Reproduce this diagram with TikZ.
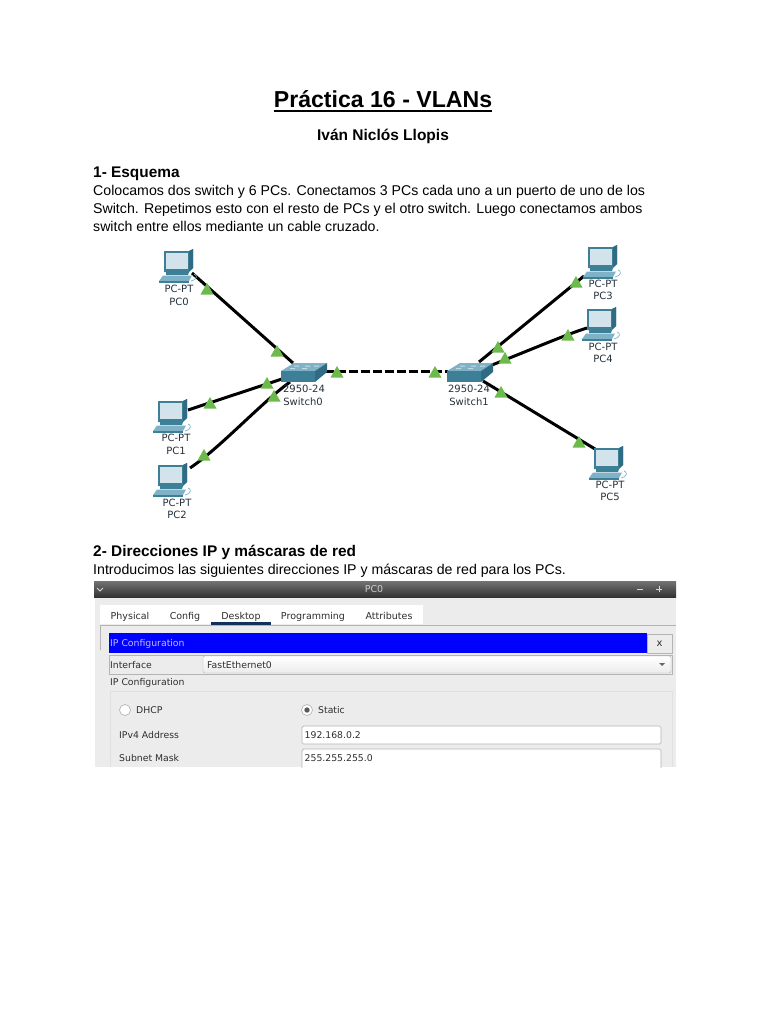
\documentclass[tikz,border=0pt]{standalone}
\usepackage{fontspec}
\setmainfont{Liberation Sans}
\newfontfamily\uifont{DejaVu Sans}
\usetikzlibrary{calc}
\definecolor{tealA}{HTML}{3E7F98}
\definecolor{tealB}{HTML}{2F6B83}
\definecolor{tealC}{HTML}{7FB2C6}
\definecolor{screenC}{HTML}{D3E3EC}
\definecolor{linkG}{HTML}{6CB94C}
\definecolor{panelC}{HTML}{ECECEC}
\definecolor{edgeC}{HTML}{B4B4B4}
\definecolor{uiText}{HTML}{2E2E2E}
\definecolor{netText}{HTML}{26323C}
\definecolor{navyC}{HTML}{12305A}
\tikzset{
  body/.style={font=\fontsize{14.15}{17}\selectfont,anchor=base west,inner sep=0pt},
  boldbody/.style={font=\fontsize{15.4}{17}\bfseries\selectfont,anchor=base west,inner sep=0pt},
  netlabel/.style={font=\uifont\fontsize{10}{11}\selectfont,text=netText,inner sep=0pt,anchor=base},
  ui/.style={font=\uifont\fontsize{9.3}{10}\selectfont,text=uiText,inner sep=0pt,anchor=base west},
  tab/.style={font=\uifont\fontsize{9.5}{10}\selectfont,text=uiText,inner sep=0pt,anchor=base},
  field/.style={draw=edgeC,fill=white,line width=.7pt,rounded corners=1.5pt},
  cable/.style={line width=3pt,black},
  cross/.style={cable,dash pattern=on 9pt off 3pt},
  pcicon/.pic={
    \fill[tealA] (0,1) -- (25,1) -- (29,-1) -- (29,18) -- (25,22) -- (0,22) -- cycle;
    \fill[tealB] (25,1) -- (29,-1) -- (29,18) -- (25,21) -- cycle;
    \fill[screenC] (1.8,2.8) -- (23.5,2.8) -- (23.5,18.5) -- (1.8,18.5) -- cycle;
    \fill[tealA] (2,22) -- (25,22) -- (24,25) -- (2,25) -- cycle;
    \fill[tealC] (-1,25.5) -- (28,25.5) -- (25,31) -- (-5,31) -- cycle;
    \fill[tealA] (-5,31) -- (25,31) -- (25,33) -- (-5,33) -- cycle;
    \draw[tealC,line width=.7pt] (27,31) .. controls (33,30) and (34,25) .. (30,24);
  },
  switchicon/.pic={
    \fill[tealC] (0,9) -- (13,1) -- (46,1) -- (34,9) -- cycle;
    \fill[tealA] (0,9) -- (34,9) -- (34,20) -- (0,20) -- cycle;
    \fill[tealB] (34,9) -- (46,1) -- (46,10) -- (34,20) -- cycle;
    \fill[white,opacity=.55] (13,3.5) rectangle +(5,1) (24,3.5) rectangle +(5,1) (33,3.5) rectangle +(5,1) (9,6) rectangle +(5,1) (21,6) rectangle +(5,1);
  },
  linkup/.pic={\fill[linkG] (-6.5,5.5) -- (0,-6) -- (6.5,5.5) -- cycle;}
}
\begin{document}
\begin{tikzpicture}[x=1pt,y=-1pt]
\useasboundingbox (0,0) rectangle (768,1024);
\fill[white] (0,0) rectangle (768,1024);

% headings
\node[font=\fontsize{23.1}{27}\bfseries\selectfont,inner sep=0pt,anchor=base] (title) at (383,108) {Práctica 16 - VLANs};
\draw[line width=1.7pt] ([yshift=-3pt]title.base west) -- ([yshift=-3pt]title.base east);
\node[font=\fontsize{15.5}{17}\bfseries\selectfont,inner sep=0pt,anchor=base] (author) at (383,141) {Iván Niclós Llopis};
\node[boldbody] (h1) at (93,178) {1- Esquema};
\node[body] (p1) at (93,196) {Colocamos dos switch y 6 PCs. Conectamos 3 PCs cada uno a un puerto de uno de los};
\node[body] (p2) at (93,214) {Switch. Repetimos esto con el resto de PCs y el otro switch. Luego conectamos ambos};
\node[body] (p3) at (93,232) {switch entre ellos mediante un cable cruzado.};
\node[boldbody] (h2) at (93,556) {2- Direcciones IP y máscaras de red};
\node[body] (p4) at (93,574) {Introducimos las siguientes direcciones IP y máscaras de red para los PCs.};

% network anchors
\coordinate (pc0) at (192,273);
\coordinate (pc1) at (188,410);
\coordinate (pc2) at (190,468);
\coordinate (pc3) at (584,276);
\coordinate (pc4) at (587,328);
\coordinate (pc5) at (595,449);
\coordinate (sw0top) at (293,363);
\coordinate (sw0left) at (285,378);
\coordinate (sw0low) at (290,382);
\coordinate (sw0right) at (325,371);
\coordinate (sw1left) at (449,371);
\coordinate (sw1top) at (479,362);
\coordinate (sw1right) at (492,365);
\coordinate (sw1low) at (483,381);

% cables
\draw[cable] (pc0) -- (sw0top);
\draw[cable] (pc1) -- (sw0left);
\draw[cable] (pc2) .. controls (220,448) and (262,402) .. (sw0low);
\draw[cross] (sw0right) -- (sw1left);
\draw[cable] (pc3) -- (sw1top);
\draw[cable] (pc4) .. controls (570,333) and (530,350) .. (sw1right);
\draw[cable] (pc5) -- (sw1low);

% devices
\path (164,250) pic {pcicon};
\path (158,400) pic {pcicon};
\path (158,464) pic {pcicon};
\path (588,246) pic {pcicon};
\path (587,308) pic {pcicon};
\path (594,447) pic {pcicon};
\path (281,362) pic {switchicon};
\path (447,362) pic {switchicon};

% link lights
\foreach \p in {(207,289),(277,351),(210,403),(267,383),(204,455),(274,396),(337,372),(435,372),(576,282),(498,347),(568,335),(505,358),(501,392),(579,442)}
  \path \p pic {linkup};

% device labels
\node[netlabel] (l0a) at (179,292) {PC-PT};
\node[netlabel] (l0b) at (179,305) {PC0};
\node[netlabel] (l1a) at (176,441) {PC-PT};
\node[netlabel] (l1b) at (176,454) {PC1};
\node[netlabel] (l2a) at (177,506) {PC-PT};
\node[netlabel] (l2b) at (177,518) {PC2};
\node[netlabel] (l3a) at (603,287) {PC-PT};
\node[netlabel] (l3b) at (603,299) {PC3};
\node[netlabel] (l4a) at (603,350) {PC-PT};
\node[netlabel] (l4b) at (603,362) {PC4};
\node[netlabel] (l5a) at (610,488) {PC-PT};
\node[netlabel] (l5b) at (610,500) {PC5};
\node[netlabel] (s0a) at (304,392) {2950-24};
\node[netlabel] (s0b) at (303,405) {Switch0};
\node[netlabel] (s1a) at (469,392) {2950-24};
\node[netlabel] (s1b) at (469,405) {Switch1};

% screenshot window
\fill[panelC] (95,582) rectangle (676,767);
\shade[top color=black!55,bottom color=black!80] (94,581) rectangle (676,597);
\node[font=\uifont\fontsize{9.5}{10}\selectfont,text=white!80!black,inner sep=0pt] (wt) at (374,589) {PC0};
\draw[white!85!black,line width=1pt] (97,588) -- (100,591) -- (103,588);
\draw[white!85!black,line width=1pt] (637,589) -- (643,589) (656,589) -- (662,589) (659,586) -- (659,592);
\fill[white] (100,605) rectangle (423,624);
\draw[edgeC,line width=.6pt] (100,650) -- (100,625) -- (676,625);
\node[tab] (t1) at (130,619) {Physical};
\node[tab] (t2) at (185,619) {Config};
\node[tab] (t3) at (241,619) {Desktop};
\node[tab] (t4) at (313,619) {Programming};
\node[tab] (t5) at (389,619) {Attributes};
\fill[navyC] (211,621.5) rectangle (271,624.5);
\fill[blue] (109,633) rectangle (647,653);
\node[ui,text=white!75!blue] (bar) at (110,646) {IP Configuration};
\path[draw=edgeC,fill=panelC,line width=.6pt] (647,634) rectangle (672,653);
\node[font=\uifont\fontsize{10}{10}\selectfont,text=uiText,inner sep=0pt] (xb) at (659.5,643.5) {x};
\draw[edgeC,line width=.6pt] (109,655) rectangle (672,674);
\shade[top color=white,bottom color=panelC,rounded corners=1.5pt,draw=edgeC] (203,656) rectangle (671,673);
\node[ui] (if) at (110,668) {Interface};
\node[ui] (ifv) at (207,668) {FastEthernet0};
\fill[black!60] (659,663) -- (665,663) -- (662,666) -- cycle;
\node[ui] (ipc) at (110,685) {IP Configuration};
\draw[black!12,line width=.6pt] (110,767) -- (110,691) -- (672,691) -- (672,767);
\draw[edgeC,fill=white,line width=.7pt] (125,710) circle (5.5);
\node[ui] (d) at (136,713.5) {DHCP};
\draw[edgeC,fill=white,line width=.7pt] (307,710) circle (5.5);
\fill[black!65] (307,710) circle (2.7);
\node[ui] (s) at (318,713.5) {Static};
\node[ui] (ip) at (119,738) {IPv4 Address};
\path[field] (302,726) rectangle (661,744);
\node[ui] (ipv) at (304.5,738.5) {192.168.0.2};
\node[ui] (sm) at (119,761) {Subnet Mask};
\begin{scope}
\clip (290,745) rectangle (670,767);
\path[field] (302,749) rectangle (661,775);
\end{scope}
\node[ui] (smv) at (304.5,761.5) {255.255.255.0};
\end{tikzpicture}
\end{document}
